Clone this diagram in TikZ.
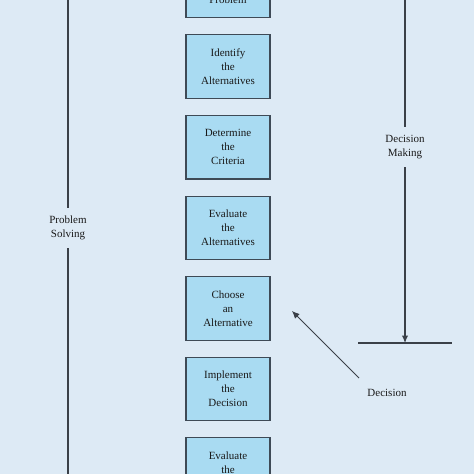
\documentclass[tikz,border=0pt]{standalone}
\usepackage{fontspec}
\setmainfont{Liberation Serif}
\usetikzlibrary{positioning, arrows.meta}

\definecolor{paneBg}{HTML}{DDEAF5}
\definecolor{stepFill}{HTML}{A9DBF2}
\definecolor{stepEdge}{HTML}{3E4A56}
\definecolor{lineGray}{HTML}{3A4048}

\begin{document}
\begin{tikzpicture}[
                x=1pt, y=-1pt,
                node distance=16pt,
                every node/.style={font=\fontsize{11}{14}\selectfont, text=black!90},
                align=center,
                >={Latex[width=6.5pt,length=7.5pt]},
                stepbox/.style={rectangle, draw=stepEdge, fill=stepFill, line width=1.1pt, minimum width=84pt, minimum height=63.5pt, inner sep=2pt},
                phase/.style={inner sep=8pt},
                line/.style={draw=lineGray, line width=1.1pt},
                ]

                % Page background and crop
                \useasboundingbox (0,0) rectangle (474,474);
                \fill[paneBg] (0,0) rectangle (474,474);
                \clip (0,0) rectangle (474,474);

                % Steps in one column
                \node [stepbox] (define) at (228,-14) {Define\\ the\\ Problem};
                \node [stepbox, below=of define] (identify) {Identify\\ the\\ Alternatives};
                \node [stepbox, below=of identify] (criteria) {Determine\\ the\\ Criteria};
                \node [stepbox, below=of criteria] (evaluate) {Evaluate\\ the\\ Alternatives};
                \node [stepbox, below=of evaluate] (choose) {Choose\\ an\\ Alternative};
                \node [stepbox, below=of choose] (implement) {Implement\\ the\\ Decision};
                \node [stepbox, below=of implement] (review) {Evaluate\\ the\\ Decision};

                % Problem solving span on the left
                \coordinate (psTop) at (68,-10);
                \coordinate (psEnd) at (68,484);
                \node [phase] (psLabel) at (68,228) {Problem\\ Solving};

                % Decision making span on the right
                \coordinate (dmTop) at (405,-10);
                \node [phase] (dmLabel) at (405,147) {Decision\\ Making};
                \coordinate (dmEnd) at (405,343);
                \coordinate (decLeft) at (358,343);
                \coordinate (decRight) at (452,343);

                \node [phase, inner sep=2pt] (decision) at (387,393) {Decision};
                \coordinate (decTail) at (359,378);
                \coordinate (decHead) at (292,311);

                % Draw the spans and arrows
                \draw[line] (psTop) -- (psLabel);
                \draw[line] (psLabel) -- (psEnd);

                \draw[line] (dmTop) -- (dmLabel);
                \draw[line, ->] (dmLabel) -- (dmEnd);
                \draw[line] (decLeft) -- (decRight);

                \draw[line, ->, line width=0.8pt] (decTail) -- (decHead);

            \end{tikzpicture}
\end{document}
